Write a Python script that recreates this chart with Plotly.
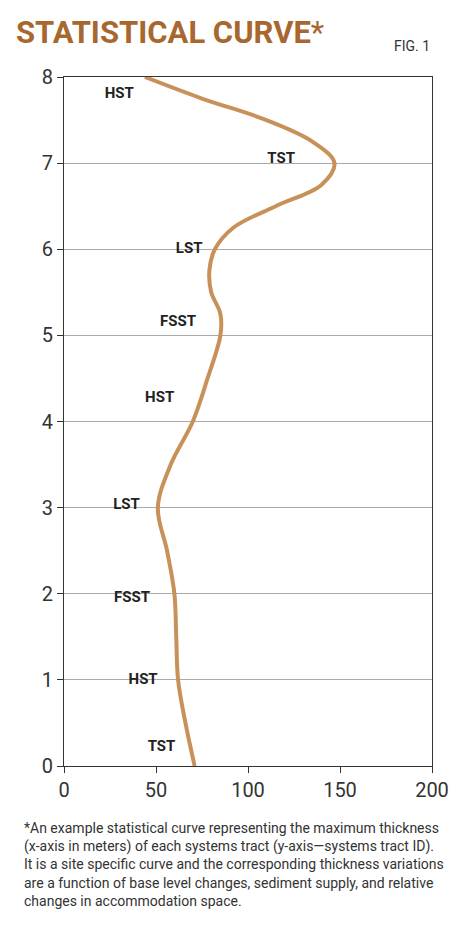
import plotly.graph_objects as go

# curve (thickness in m, systems tract ID)
thickness = [71, 66, 62, 61, 60, 56, 51, 58, 70, 78, 85, 85, 80, 79, 82, 92, 115, 140, 147, 135, 110, 75, 44]
tract_id = [0, 0.5, 1, 1.5, 2, 2.5, 3, 3.5, 4, 4.5, 5, 5.25, 5.5, 5.75, 6, 6.25, 6.5, 6.75, 7, 7.25, 7.5, 7.75, 8]

label_text = ["HST", "TST", "LST", "FSST", "HST", "LST", "FSST", "HST", "TST"]
label_x = [30, 118, 68, 62, 52, 34, 37, 43, 53]
label_y = [7.8, 7.05, 6.0, 5.15, 4.27, 3.03, 1.95, 1.0, 0.22]

W, H = 474, 934
L, R, T, B = 56, 424, 69, 758

fig = go.Figure()
fig.add_trace(go.Scatter(x=thickness, y=tract_id, mode="lines",
                         line=dict(color="#c8915a", width=4, shape="spline"),
                         hoverinfo="skip"))
fig.add_trace(go.Scatter(x=label_x, y=label_y, mode="text",
                         text=["<b>%s</b>" % t for t in label_text],
                         textfont=dict(family="Roboto", size=15, color="#222"),
                         hoverinfo="skip"))

fig.update_layout(
    width=W, height=H, showlegend=False,
    paper_bgcolor="white", plot_bgcolor="white",
    margin=dict(l=L, r=W - R, t=T, b=H - B),
    xaxis=dict(range=[0, 200], tickvals=[0, 50, 100, 150, 200], showgrid=False,
               showline=True, linecolor="#333", linewidth=1, mirror=True,
               ticks="outside", ticklen=6, tickcolor="#333",
               tickfont=dict(family="Roboto", size=20, color="#333"), zeroline=False),
    yaxis=dict(range=[0, 8], dtick=1, showgrid=True, gridcolor="#aaa", gridwidth=1,
               showline=True, linecolor="#333", linewidth=1, mirror=True,
               ticks="outside", ticklen=6, tickcolor="#333",
               tickfont=dict(family="Roboto", size=20, color="#333"), zeroline=False),
)

fig.add_annotation(text="<b>STATISTICAL CURVE</b>*", xref="paper", yref="paper",
                   x=-(L - 6) / (R - L), y=1 + (T - 4) / (B - T), xanchor="left", yanchor="top",
                   showarrow=False,
                   font=dict(family="Liberation Sans Narrow, Roboto", size=31, color="#a8672e"))
fig.add_annotation(text="FIG. 1", xref="paper", yref="paper",
                   x=1.0, y=1 + (T - 28) / (B - T), xanchor="right", yanchor="top",
                   showarrow=False, font=dict(family="Liberation Sans Narrow, Roboto", size=14, color="#333"))

caption = ("*An example statistical curve representing the maximum thickness<br>"
           "(x-axis in meters) of each systems tract (y-axis—systems tract ID).<br>"
           "It is a site specific curve and the corresponding thickness variations<br>"
           "are a function of base level changes, sediment supply, and relative<br>"
           "changes in accommodation space.")
fig.add_annotation(text=caption, xref="paper", yref="paper", align="left",
                   x=-(L - 14) / (R - L), y=-(810 - B) / (B - T), xanchor="left", yanchor="top",
                   showarrow=False,
                   font=dict(family="Liberation Sans Narrow, Roboto", size=14, color="#333"))

fig.write_html("out.html")
